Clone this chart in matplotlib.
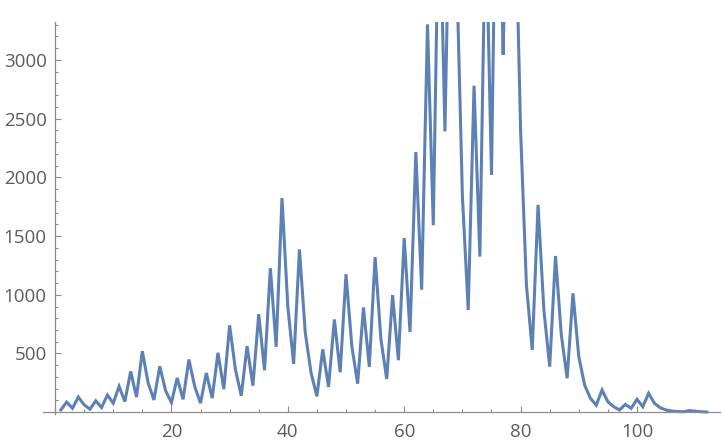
import numpy as np
import matplotlib
matplotlib.use('Agg')
import matplotlib.pyplot as plt
from matplotlib.ticker import MultipleLocator, FixedLocator


# daily values, index 1..112 (values above ~3325 are clipped by the plot range)
day = np.arange(1, 113)
counts = [20, 86, 34, 129, 63, 26, 97, 40, 146, 77,
          220, 91, 348, 129, 520, 249, 105, 391, 183, 82,
          292, 110, 449, 220, 77, 334, 120, 506, 197, 740,
          363, 140, 563, 226, 835, 357, 1226, 557, 1824, 900,
          411, 1386, 677, 334, 135, 535, 215, 790, 340, 1175,
          563, 243, 892, 386, 1320, 620, 283, 997, 443, 1483,
          683, 2215, 1043, 3302, 1592, 4600, 2390, 5000, 3800, 1840,
          870, 2780, 1325, 4300, 2020, 5500, 3043, 5500, 4530, 2400,
          1085, 530, 1765, 870, 388, 1330, 658, 289, 1013, 473,
          232, 118, 61, 189, 89, 47, 19, 67, 33, 110,
          47, 161, 76, 38, 19, 10, 6, 4, 14, 8,
          4, 2]

x_major = [20, 40, 60, 80, 100]
y_major = [500, 1000, 1500, 2000, 2500, 3000]

line_color = '#5e81b5'
axis_color = '#8c8c8c'
label_color = '#5c5c5c'


def main():
    plt.rcParams['font.family'] = ['Open Sans', 'DejaVu Sans']

    fig = plt.figure(figsize=(7.22, 4.44), dpi=100)
    ax = fig.add_axes([0.0601, 0.0676, 0.9366, 0.8836])

    ax.plot(day, counts, color=line_color, lw=2.2, solid_joinstyle='miter')

    ax.set_xlim(-2, 114.2)
    ax.set_ylim(-15, 3325)

    # Mathematica style axes through the origin
    for s in ['top', 'right']:
        ax.spines[s].set_visible(False)
    ax.spines['left'].set_position(('data', 0))
    ax.spines['bottom'].set_position(('data', 0))
    for s in ['left', 'bottom']:
        ax.spines[s].set_color(axis_color)
        ax.spines[s].set_linewidth(0.9)

    ax.xaxis.set_major_locator(FixedLocator(x_major))
    ax.xaxis.set_minor_locator(MultipleLocator(5))
    ax.yaxis.set_major_locator(FixedLocator(y_major))
    ax.yaxis.set_minor_locator(MultipleLocator(100))

    ax.tick_params(which='both', direction='in', color=axis_color, width=0.8)
    ax.tick_params(which='major', length=4.5)
    ax.tick_params(which='minor', length=2.5)
    ax.tick_params(axis='x', which='major', pad=8, labelsize=13.5, labelcolor=label_color)
    ax.tick_params(axis='y', which='major', pad=6, labelsize=13.5, labelcolor=label_color)

    fig.savefig('out.png', dpi=100)


if __name__ == '__main__':
    main()
